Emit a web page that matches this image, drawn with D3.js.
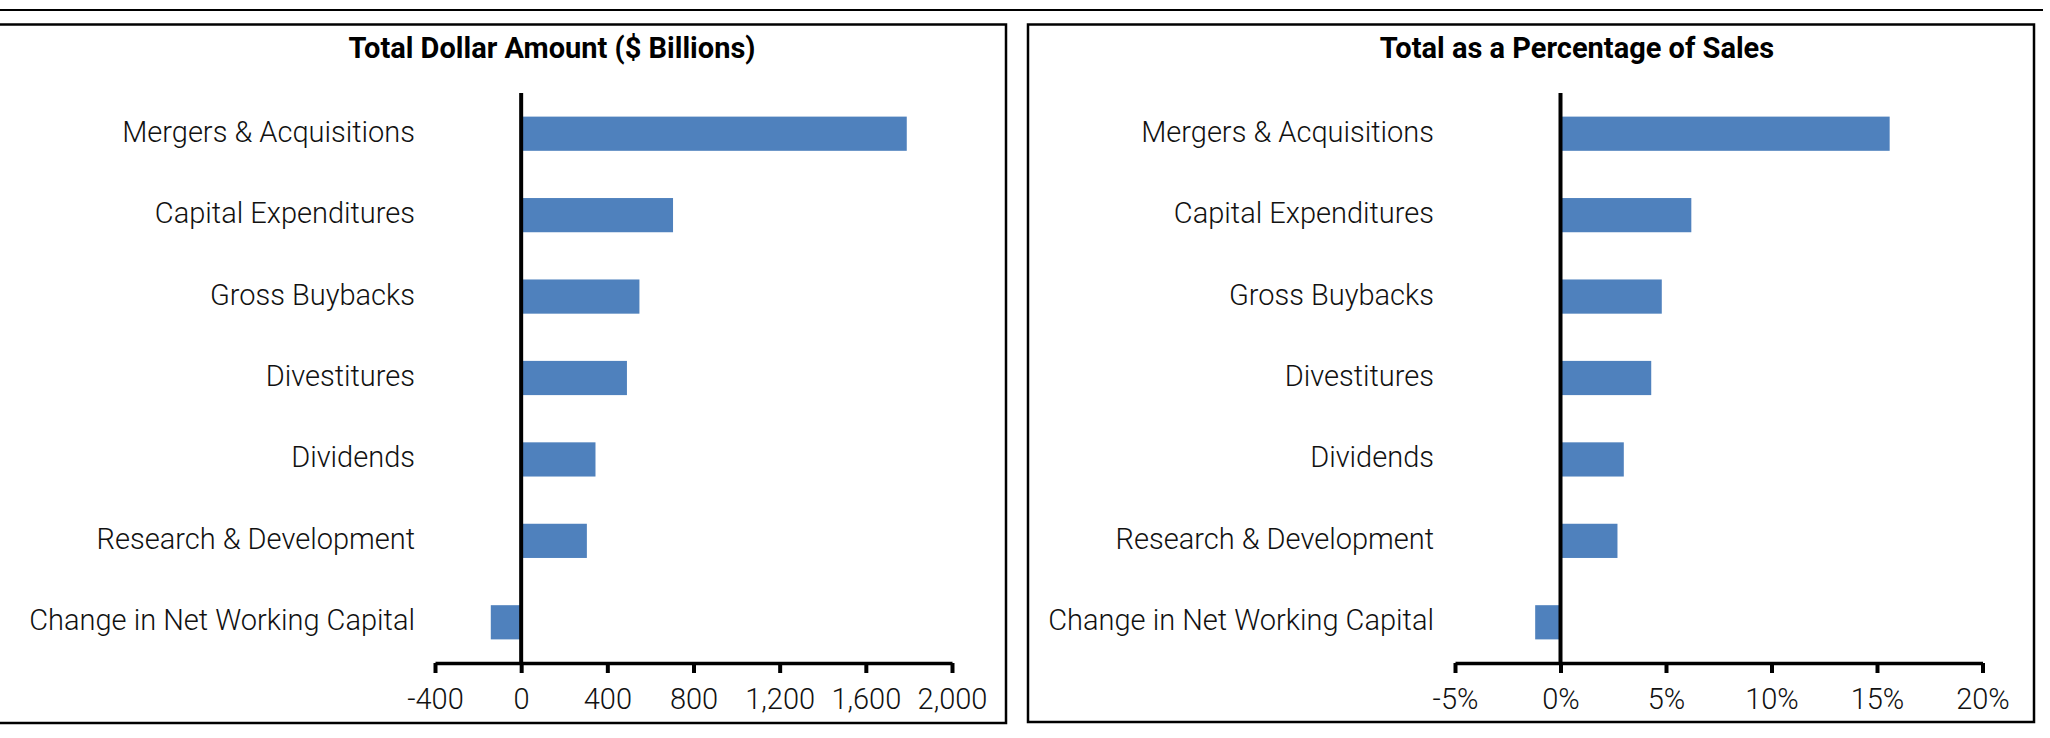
<!DOCTYPE html>
<html>
<head>
<meta charset="utf-8">
<script src="https://cdn.jsdelivr.net/npm/d3@7"></script>
<style>
  html, body { margin: 0; padding: 0; background: #fff; }
  svg { display: block; }
  .lbl { font-family: Roboto, "Liberation Sans", sans-serif; font-weight: 300; fill: #111; }
  .ttl { font-family: Roboto, "Liberation Sans", sans-serif; font-weight: 700; fill: #000; }
</style>
</head>
<body>
<svg id="chart" width="2050" height="738"></svg>
<script>
// ---- data ----
const categories = [
  "Mergers & Acquisitions",
  "Capital Expenditures",
  "Gross Buybacks",
  "Divestitures",
  "Dividends",
  "Research & Development",
  "Change in Net Working Capital"
];
const dollarValues = [1790, 705, 549, 491, 345, 305, -141];      // $ billions
const percentValues = [15.6, 6.2, 4.8, 4.3, 3.0, 2.7, -1.2];     // % of sales
const dollarTicks = [-400, 0, 400, 800, 1200, 1600, 2000];
const percentTicks = [-5, 0, 5, 10, 15, 20];
const titles = ["Total Dollar Amount ($ Billions)", "Total as a Percentage of Sales"];

// ---- layout ----
const svg = d3.select("#chart");
const barColor = "#4F81BD";
const commaFmt = d3.format(",");
const hyphen = s => s.replace("\u2212", "-");

// top rule
svg.append("line").attr("x1", 0).attr("x2", 2043).attr("y1", 10).attr("y2", 10)
  .attr("stroke", "#000").attr("stroke-width", 2);

const panels = [
  { box: [-5, 24.5, 1006, 723], title: titles[0], titleX: 552,
    values: dollarValues, ticks: dollarTicks, domain: [-400, 2000], range: [435, 952],
    fmt: d => hyphen(commaFmt(d)), labelX: 415 },
  { box: [1028, 24.5, 2034, 722], title: titles[1], titleX: 1577,
    values: percentValues, ticks: percentTicks, domain: [-5, 20], range: [1455, 1982.5],
    fmt: d => d + "%", labelX: 1434 }
];

const y = d3.scaleBand().domain(categories).range([93, 663])
  .paddingInner(0.58).paddingOuter(0.29);

panels.forEach(p => {
  const g = svg.append("g");
  // frame
  g.append("rect")
    .attr("x", p.box[0]).attr("y", p.box[1])
    .attr("width", p.box[2] - p.box[0]).attr("height", p.box[3] - p.box[1])
    .attr("fill", "none").attr("stroke", "#000").attr("stroke-width", 2.5);

  // title
  g.append("text").attr("class", "ttl")
    .attr("x", p.titleX).attr("y", 58)
    .attr("text-anchor", "middle")
    .attr("font-size", 29)
    .text(p.title);

  const x = d3.scaleLinear().domain(p.domain).range(p.range);
  const data = categories.map((c, i) => ({ c, v: p.values[i] }));

  // bars
  g.selectAll("rect.bar").data(data).enter().append("rect")
    .attr("class", "bar")
    .attr("x", d => x(Math.min(0, d.v)))
    .attr("width", d => Math.abs(x(d.v) - x(0)))
    .attr("y", d => y(d.c))
    .attr("height", y.bandwidth())
    .attr("fill", barColor);

  // category labels
  g.selectAll("text.cat").data(data).enter().append("text")
    .attr("class", "lbl cat")
    .attr("x", p.labelX)
    .attr("y", d => y(d.c) + y.bandwidth() / 2 + 8)
    .attr("text-anchor", "end")
    .attr("font-size", 29)
    .text(d => d.c);

  // x axis
  const axisY = 663;
  const ax = g.append("g").attr("transform", `translate(0,${axisY})`)
    .call(d3.axisBottom(x).tickValues(p.ticks).tickFormat(p.fmt).tickSize(10).tickSizeOuter(0).tickPadding(6));
  ax.select(".domain").attr("stroke", "#000").attr("stroke-width", 3.5);
  ax.selectAll(".tick line").attr("stroke", "#000").attr("stroke-width", 4);
  ax.selectAll(".tick text").attr("class", "lbl")
    .attr("font-size", 29).attr("fill", "#111")
    .attr("y", 46).attr("dy", 0);

  // vertical zero axis
  g.append("line")
    .attr("x1", x(0)).attr("x2", x(0))
    .attr("y1", 93).attr("y2", axisY + 1)
    .attr("stroke", "#000").attr("stroke-width", 4);
});
</script>
</body>
</html>
